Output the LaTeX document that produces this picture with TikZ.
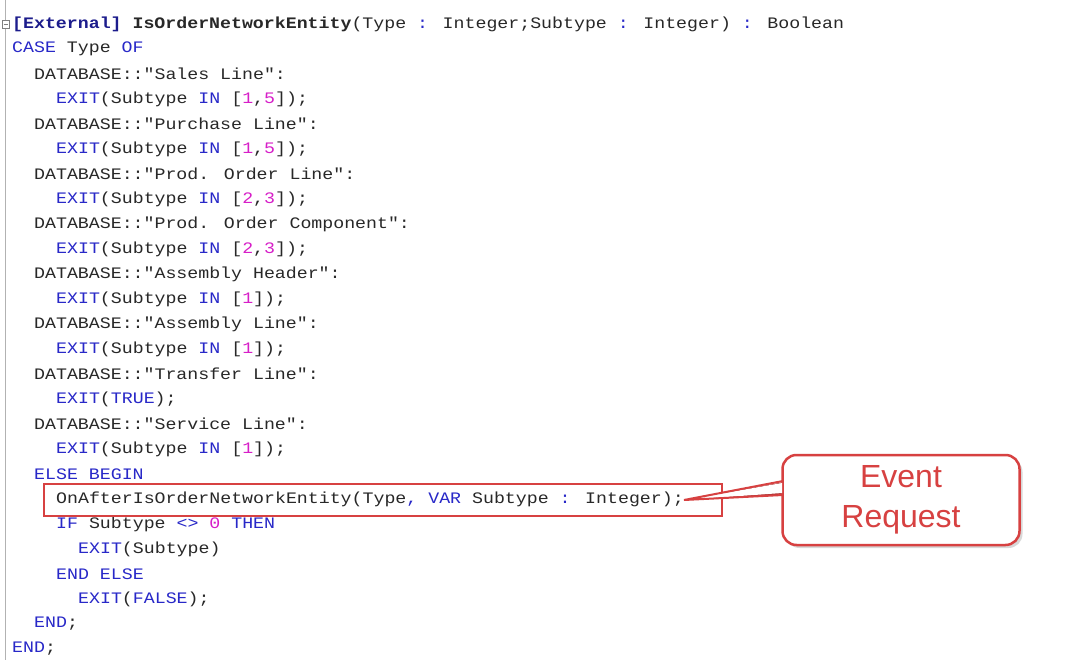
\documentclass[tikz,border=0pt]{standalone}
\usepackage{fontspec}
\newfontfamily\code[FakeStretch=1.14]{Liberation Mono}
\newfontfamily\callfont{Liberation Sans}
\usetikzlibrary{shadows}
\definecolor{kw}{RGB}{40,40,200}
\definecolor{num}{RGB}{215,30,200}
\definecolor{txt}{RGB}{40,40,40}
\definecolor{redc}{RGB}{215,65,65}
\newcommand{\K}[1]{\textcolor{kw}{#1}}
\newcommand{\N}[1]{\textcolor{num}{#1}}
\begin{document}
\begin{tikzpicture}[x=1pt,y=-1pt,
  ln/.style={anchor=west,inner sep=0pt,font=\code\fontsize{16}{16}\selectfont,text=txt}]
\useasboundingbox (0,0) rectangle (1087,660);
\fill[white] (0,0) rectangle (1087,660);
\draw[gray!60] (5,0) -- (5,660);
\draw[gray,fill=white] (2,20) rectangle (9,28);
\draw[gray] (3.5,24) -- (7.5,24);
\node[ln] (l1) at (12,24) {\textbf{\textcolor{kw!70!black}{[External]} IsOrderNetworkEntity}(Type \K{:} Integer;Subtype \K{:} Integer) \K{:} Boolean};
\node[ln] (l2) at (12,49) {\K{CASE} Type \K{OF}};
\node[ln] (l3) at (34,74) {DATABASE::"Sales Line":};
\node[ln] (l4) at (56,99) {\K{EXIT}(Subtype \K{IN} [\N{1},\N{5}]);};
\node[ln] (l5) at (34,124) {DATABASE::"Purchase Line":};
\node[ln] (l6) at (56,149) {\K{EXIT}(Subtype \K{IN} [\N{1},\N{5}]);};
\node[ln] (l7) at (34,174) {DATABASE::"Prod. Order Line":};
\node[ln] (l8) at (56,199) {\K{EXIT}(Subtype \K{IN} [\N{2},\N{3}]);};
\node[ln] (l9) at (34,224) {DATABASE::"Prod. Order Component":};
\node[ln] (l10) at (56,249) {\K{EXIT}(Subtype \K{IN} [\N{2},\N{3}]);};
\node[ln] (l11) at (34,274) {DATABASE::"Assembly Header":};
\node[ln] (l12) at (56,299) {\K{EXIT}(Subtype \K{IN} [\N{1}]);};
\node[ln] (l13) at (34,324) {DATABASE::"Assembly Line":};
\node[ln] (l14) at (56,349) {\K{EXIT}(Subtype \K{IN} [\N{1}]);};
\node[ln] (l15) at (34,374) {DATABASE::"Transfer Line":};
\node[ln] (l16) at (56,399) {\K{EXIT}(\K{TRUE});};
\node[ln] (l17) at (34,424) {DATABASE::"Service Line":};
\node[ln] (l18) at (56,449) {\K{EXIT}(Subtype \K{IN} [\N{1}]);};
\node[ln] (l19) at (34,474) {\K{ELSE BEGIN}};
\node[ln] (l20) at (56,499) {OnAfterIsOrderNetworkEntity(Type\K{,} \K{VAR} Subtype \K{:} Integer);};
\node[ln] (l21) at (56,524) {\K{IF} Subtype \K{<>} \N{0} \K{THEN}};
\node[ln] (l22) at (78,549) {\K{EXIT}(Subtype)};
\node[ln] (l23) at (56,574) {\K{END ELSE}};
\node[ln] (l24) at (78,599) {\K{EXIT}(\K{FALSE});};
\node[ln] (l25) at (34,624) {\K{END};};
\node[ln] (l26) at (12,649) {\K{END};};
\node[draw=redc,line width=2pt,minimum width=678pt,minimum height=32pt,inner sep=0pt] (hl) at (383,500) {};
\coordinate (tip) at (684,500);
\fill[redc!80!black] (tip) -- (790,481) -- (790,495) -- cycle;
\node[draw=redc,line width=2.5pt,fill=white,rounded corners=14pt,minimum width=237pt,minimum height=90pt,
  drop shadow={opacity=0.3,shadow xshift=3pt,shadow yshift=-3pt},
  font=\callfont\fontsize{32}{40}\selectfont,text=redc,align=center] (ev) at (901,500) {Event\\Request};
\fill[white] (782,483) -- (tip) -- (782,493) -- cycle;
\draw[redc,line width=2pt] (783,481) -- (tip) -- (783,495);
\end{tikzpicture}
\end{document}
